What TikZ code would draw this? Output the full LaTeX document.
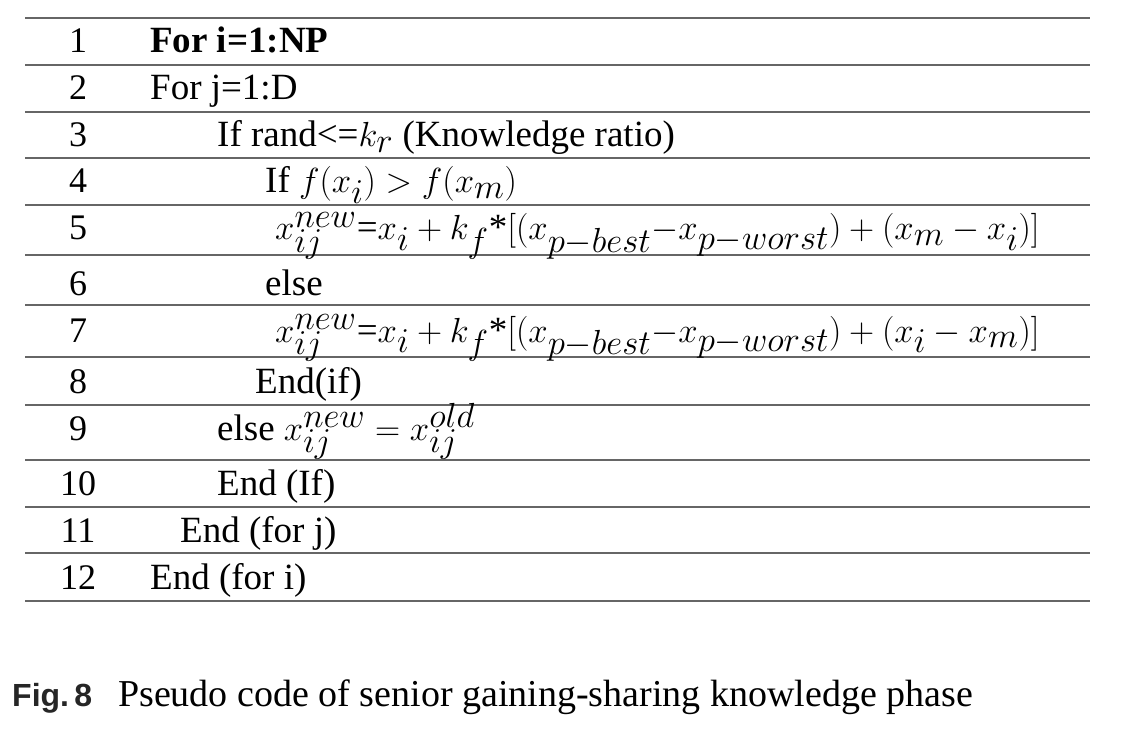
\documentclass[tikz,border=0pt]{standalone}
\usepackage{fontspec}
\usepackage{graphicx}
\setmainfont{Liberation Serif}
\setsansfont{Liberation Sans}
\newcommand{\MyM}[1]{\scalebox{1.4}{$#1$}}
\begin{document}
\begin{tikzpicture}[x=1pt,y=-1pt,
  rl/.style={draw=black!60,line width=1.5pt},
  num/.style={anchor=base,font=\fontsize{36}{40}\selectfont},
  txt/.style={anchor=base west,inner sep=0pt,font=\fontsize{37}{40}\selectfont}]
\useasboundingbox (0,0) rectangle (1127,730);
\foreach \y in {18,65,112,158,205,255,305,357,405,460,507,553,601}
  \draw[rl] (25,\y) -- (1090,\y);
\foreach \n/\y in {1/53,2/100,3/147,4/193,5/240,6/295,7/342,8/393,9/440,10/495,11/542,12/589}
  \node[num] (n\n) at (78,\y) {\n};
\node[txt] (t1) at (150,53) {\textbf{For i=1:NP}};
\node[txt] (t2) at (150,100) {For j=1:D};
\node[txt] (t3) at (217,147) {If rand<=\MyM{k_r} (Knowledge ratio)};
\node[txt] (t4) at (265,193) {If \MyM{f(x_i)>f(x_m)}};
\node[txt] (t5) at (275,240) {\MyM{x_{ij}^{new}}=\MyM{x_i+k_f}*\MyM{[(x_{p-best}{-}x_{p-worst})+(x_m-x_i)]}};
\node[txt] (t6) at (265,295) {else};
\node[txt] (t7) at (275,342) {\MyM{x_{ij}^{new}}=\MyM{x_i+k_f}*\MyM{[(x_{p-best}{-}x_{p-worst})+(x_i-x_m)]}};
\node[txt] (t8) at (255,393) {End(if)};
\node[txt] (t9) at (217,440) {else \MyM{x_{ij}^{new}=x_{ij}^{old}}};
\node[txt] (t10) at (217,495) {End (If)};
\node[txt] (t11) at (180,542) {End (for j)};
\node[txt] (t12) at (150,589) {End (for i)};
\node[txt] (cap) at (12,706) {{\sffamily\bfseries\color{black!85}\fontsize{32}{36}\selectfont Fig.\,8}\hspace{26pt}\fontsize{38}{42}\selectfont Pseudo code of senior gaining-sharing knowledge phase};
\end{tikzpicture}
\end{document}
